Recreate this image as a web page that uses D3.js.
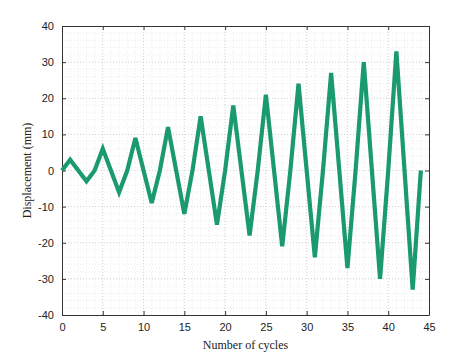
<!DOCTYPE html>
<html>
<head>
<meta charset="utf-8">
<script src="https://cdn.jsdelivr.net/npm/d3@7"></script>
<style>
body { margin: 0; background: #fff; }
.tick text { font-family: "Liberation Sans", Arial, sans-serif; font-size: 11px; fill: #222; }
.label { font-family: "Liberation Serif", "Times New Roman", serif; font-size: 12px; fill: #222; }
</style>
</head>
<body>
<div id="chart"></div>
<script>
// cycle number and displacement (mm)
var cycles = [0,1,2,3,4,5,6,7,8,9,10,11,12,13,14,15,16,17,18,19,20,21,22,
  23,24,25,26,27,28,29,30,31,32,33,34,35,36,37,38,39,40,41,42,43,44];
var displacement = [0,3,0,-3,0,6,0,-6,0,9,0,-9,0,12,0,-12,0,15,0,-15,0,18,0,
  -18,0,21,0,-21,0,24,0,-24,0,27,0,-27,0,30,0,-30,0,33,0,-33,0];
var xTicks = [0,5,10,15,20,25,30,35,40,45];
var yTicks = [-40,-30,-20,-10,0,10,20,30,40];

var data = cycles.map(function(c, i) { return {x: c, y: displacement[i]}; });

var margin = {top: 26, right: 45, bottom: 40, left: 62}
  , width = 474 - margin.left - margin.right
  , height = 355 - margin.top - margin.bottom;

var xScale = d3.scaleLinear().domain([0, 45]).range([0, width]);
var yScale = d3.scaleLinear().domain([-40, 40]).range([height, 0]);

var svg = d3.select("#chart").append("svg")
    .attr("width", 474)
    .attr("height", 355)
  .append("g")
    .attr("transform", "translate(" + margin.left + "," + margin.top + ")");

// minor grid
svg.append("g").selectAll("line")
    .data(d3.range(1, 45))
  .enter().append("line")
    .attr("x1", function(d) { return xScale(d); })
    .attr("x2", function(d) { return xScale(d); })
    .attr("y1", 0).attr("y2", height)
    .attr("stroke", "#ddd").attr("stroke-width", 0.6)
    .attr("stroke-dasharray", "1,2");
svg.append("g").selectAll("line")
    .data(d3.range(-38, 40, 2))
  .enter().append("line")
    .attr("y1", function(d) { return yScale(d); })
    .attr("y2", function(d) { return yScale(d); })
    .attr("x1", 0).attr("x2", width)
    .attr("stroke", "#ddd").attr("stroke-width", 0.6)
    .attr("stroke-dasharray", "1,2");

// major grid
svg.append("g").selectAll("line")
    .data(xTicks.slice(1, -1))
  .enter().append("line")
    .attr("x1", function(d) { return xScale(d); })
    .attr("x2", function(d) { return xScale(d); })
    .attr("y1", 0).attr("y2", height)
    .attr("stroke", "#c8c8c8").attr("stroke-width", 0.7)
    .attr("stroke-dasharray", "1,2");
svg.append("g").selectAll("line")
    .data(yTicks.slice(1, -1))
  .enter().append("line")
    .attr("y1", function(d) { return yScale(d); })
    .attr("y2", function(d) { return yScale(d); })
    .attr("x1", 0).attr("x2", width)
    .attr("stroke", "#c8c8c8").attr("stroke-width", 0.7)
    .attr("stroke-dasharray", "1,2");

// axes, ticks pointing inward; plain hyphen for negatives like the original
var fmt = function(d) { return String(d); };
svg.append("g")
    .attr("transform", "translate(0," + height + ")")
    .call(d3.axisBottom(xScale).tickValues(xTicks).tickSizeInner(-4).tickSizeOuter(0).tickPadding(8).tickFormat(fmt));
svg.append("g")
    .call(d3.axisTop(xScale).tickValues(xTicks).tickSizeInner(-4).tickSizeOuter(0).tickFormat(""));
svg.append("g")
    .call(d3.axisLeft(yScale).tickValues(yTicks).tickSizeInner(-4).tickSizeOuter(0).tickPadding(8).tickFormat(fmt));
svg.append("g")
    .attr("transform", "translate(" + width + ",0)")
    .call(d3.axisRight(yScale).tickValues(yTicks).tickSizeInner(-4).tickSizeOuter(0).tickFormat(""));
svg.selectAll(".domain").attr("stroke", "#333");
svg.selectAll(".tick line").attr("stroke", "#333");

// the line
var line = d3.line()
    .x(function(d) { return xScale(d.x); })
    .y(function(d) { return yScale(d.y); });

svg.append("path")
    .datum(data)
    .attr("fill", "none")
    .attr("stroke", "#1b9a6f")
    .attr("stroke-width", 4.2)
    .attr("stroke-linejoin", "miter")
    .attr("d", line);

// labels
svg.append("text")
    .attr("class", "label")
    .attr("x", width / 2)
    .attr("y", height + 34)
    .attr("text-anchor", "middle")
    .text("Number of cycles");
svg.append("text")
    .attr("class", "label")
    .attr("transform", "translate(-31," + (height / 2) + ") rotate(-90)")
    .attr("text-anchor", "middle")
    .text("Displacement (mm)");
</script>
</body>
</html>
